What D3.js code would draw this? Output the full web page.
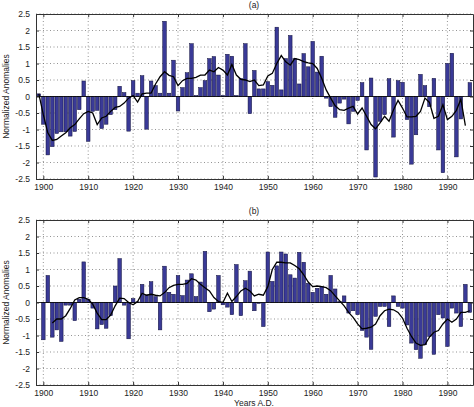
<!DOCTYPE html>
<html>
<head>
<meta charset="utf-8">
<script src="https://cdn.jsdelivr.net/npm/d3@7/dist/d3.min.js"></script>
<style>
body { margin: 0; background: #fff; }
text { font-family: "Liberation Sans", Arial, sans-serif; fill: #222; }
</style>
</head>
<body>
<svg id="chart" width="474" height="407"></svg>
<script>
// panel (a) bars, one per year from 1899
var barsA = [0.08, -0.84, -1.77, -1.52, -1.12, -1.07, -1.07, -1.2, -1.06, -0.4,
    0.47, -1.36, -0.45, -0.42, -0.97, -0.84, -0.55, -0.4, 0.31, 0.12,
    -1.05, 0.48, 0.1, 0.63, -0.99, 0.47, 0.33, 0.1, 2.28, 0.1,
    1.1, -0.44, 0.27, 0.72, 1.6, 0.03, 0.27, 0.48, 1.15, 1.21,
    0.65, 0.03, 1.28, 1.22, 0.03, 0.55, 1.6, -0.52, 0.79, 0.23,
    0.23, 0.45, 0.34, 2.1, 0.2, 1.15, 1.85, 1.15, 0.38, 1.3,
    0.9, 1.67, 0.74, 1.22, -0.05, -0.31, -0.63, -0.2, -0.08, -0.83,
    -0.45, -0.12, 0.42, -1.62, 0.56, -2.44, -0.75, -0.55, 0.54, -1.23,
    0.48, 0.43, -0.7, -2.05, -1.16, 0.67, 0.33, -0.31, 0.55, -1.62,
    -2.31, 1.0, 1.31, -1.83, -0.68, 0.0, 0.42];
var firstYearA = 1899;

// panel (a) smoothed curve, 1899-1994
var lineA = [0.08, -0.55, -1.1, -1.33, -1.3, -1.2, -1.1, -0.95, -0.85, -0.68,
    -0.52, -0.45, -0.5, -0.85, -0.65, -0.6, -0.45, -0.33, -0.3, -0.2,
    -0.05, 0.03, -0.17, 0.08, 0.1, 0.1, 0.38, 0.6, 0.75, 0.64,
    0.6, 0.33, 0.48, 0.55, 0.55, 0.58, 0.65, 0.65, 0.8, 0.75,
    0.88, 0.8, 0.65, 0.97, 0.65, 0.52, 0.5, 0.45, 0.5, 0.33,
    0.35, 0.62, 0.7, 1.0, 1.24, 1.05, 0.95, 1.15, 1.12, 1.06,
    1.02, 1.0, 0.85, 0.55, 0.2, -0.05, -0.28, -0.4, -0.42, -0.35,
    -0.3, -0.53, -0.35, -0.6, -0.85, -0.98, -0.8, -0.6, -0.75, -0.4,
    -0.12, -0.35, -0.62, -0.62, -0.6, -0.45, -0.05, -0.18, -0.66, -0.6,
    -0.25, -0.7, -0.6, -0.42, -0.08, -0.88];
var firstLineYearA = 1899;

// panel (b) bars, one per year from 1900
var barsB = [-1.13, 0.82, -1.05, -0.83, -1.18, -0.08, -0.08, -0.55, 0.1, 1.23,
    0.1, -0.17, -0.8, -0.67, -0.78, -0.4, 0.5, 1.33, -0.08, -1.1,
    0.12, 0.02, 0.55, 0.23, 0.63, 0.18, -0.83, 1.1, 0.31, 0.25,
    0.82, 0.21, 0.68, 0.87, 0.18, 0.62, 1.55, -0.28, -0.2, 0.82,
    -0.07, -0.14, -0.37, 1.15, -0.4, 0.66, 0.95, -0.25, -0.03, -0.73,
    1.53, 0.64, 1.11, 1.53, 1.47, 0.84, 0.74, 1.52, 1.22, 0.58,
    0.31, 0.43, 0.48, 0.25, 0.82, 0.41, 0.03, 0.2, -0.32, -0.25,
    -0.37, -0.85, -1.05, -1.42, -0.42, -0.12, -0.12, -0.73, 0.2, -0.12,
    -0.17, -0.68, -1.23, -1.43, -1.69, -1.28, -1.03, -1.57, -0.37, -0.47,
    -1.33, -0.17, -0.32, -0.73, 0.55, -0.3];
var firstYearB = 1900;

// panel (b) smoothed curve, 1902-1995
var lineB = [-0.62, -0.5, -0.5, -0.4, -0.18, 0.08, 0.15, 0.15,
    0.1, -0.05, -0.32, -0.52, -0.52, -0.38, -0.1, 0.13, 0.12, 0.0,
    -0.07, 0.03, 0.28, 0.22, 0.25, 0.22, 0.2, 0.3, 0.45, 0.52,
    0.55, 0.55, 0.58, 0.72, 0.68, 0.55, 0.45, 0.35, 0.15, 0.03,
    0.0, 0.28, 0.03, 0.18, 0.35, 0.43, 0.35, 0.2, 0.25, 0.22,
    0.48, 1.0, 1.22, 1.22, 1.2, 1.2, 1.12, 1.02, 0.84, 0.62,
    0.48, 0.5, 0.48, 0.45, 0.36, 0.2, 0.05, -0.1, -0.3, -0.45,
    -0.65, -0.8, -0.78, -0.75, -0.65, -0.4, -0.25, -0.2, -0.22, -0.3,
    -0.47, -0.78, -1.03, -1.23, -1.3, -1.28, -1.05, -0.9, -0.85, -0.65,
    -0.5, -0.6, -0.5, -0.3, -0.3, -0.25];
var firstLineYearB = 1902;

var xTicks = [1900, 1910, 1920, 1930, 1940, 1950, 1960, 1970, 1980, 1990];
var yTicks = [-2.5, -2, -1.5, -1, -0.5, 0, 0.5, 1, 1.5, 2, 2.5];
var panelTitles = ["(a)", "(b)"];

var svg = d3.select("#chart");

var x = d3.scaleLinear().domain([1898.37, 1995.7]).range([36, 473]);
var bw = (x(1) - x(0)) * 0.8;

function toPoints(vals, start) {
    return vals.map(function(v, i) { return {year: start + i, v: v}; });
}

function drawPanel(id, top, bottom, title, bars, barStart, line, lineStart) {
    var y = d3.scaleLinear().domain([-2.5, 2.5]).range([bottom, top]);
    var g = svg.append("g");

    g.append("clipPath").attr("id", "clip" + id)
        .append("rect")
        .attr("x", x.range()[0]).attr("y", top)
        .attr("width", x.range()[1] - x.range()[0])
        .attr("height", bottom - top);

    // dotted grid
    g.selectAll("line.gx").data(xTicks).enter().append("line")
        .attr("x1", function(d) { return x(d); })
        .attr("x2", function(d) { return x(d); })
        .attr("y1", top).attr("y2", bottom)
        .style("stroke", "#666").style("stroke-width", 0.7)
        .style("stroke-dasharray", "1,2.5");
    g.selectAll("line.gy").data(yTicks).enter().append("line")
        .attr("x1", x.range()[0]).attr("x2", x.range()[1])
        .attr("y1", function(d) { return y(d); })
        .attr("y2", function(d) { return y(d); })
        .style("stroke", "#666").style("stroke-width", 0.7)
        .style("stroke-dasharray", "1,2.5");

    var plot = g.append("g").attr("clip-path", "url(#clip" + id + ")");

    plot.selectAll("rect.bar").data(toPoints(bars, barStart)).enter().append("rect")
        .attr("x", function(d) { return x(d.year) - bw / 2; })
        .attr("width", bw)
        .attr("y", function(d) { return y(Math.max(0, d.v)); })
        .attr("height", function(d) { return Math.abs(y(d.v) - y(0)); })
        .style("fill", "#3a3a97")
        .style("stroke", "#10103a")
        .style("stroke-width", 0.5);

    plot.append("line")
        .attr("x1", x.range()[0]).attr("x2", x.range()[1])
        .attr("y1", y(0)).attr("y2", y(0))
        .style("stroke", "#000").style("stroke-width", 0.8);

    plot.append("path")
        .datum(toPoints(line, lineStart))
        .attr("d", d3.line()
            .x(function(d) { return x(d.year); })
            .y(function(d) { return y(d.v); }))
        .style("fill", "none")
        .style("stroke", "#000")
        .style("stroke-width", 1.3);

    // axes box with inward ticks
    var xAxisB = d3.axisBottom(x).tickValues(xTicks).tickSizeInner(-3).tickSizeOuter(0).tickPadding(5)
        .tickFormat(d3.format("d"));
    var xAxisT = d3.axisTop(x).tickValues(xTicks).tickSizeInner(-3).tickSizeOuter(0).tickFormat("");
    var yAxisL = d3.axisLeft(y).tickValues(yTicks).tickSizeInner(-3).tickSizeOuter(0).tickPadding(6)
        .tickFormat(function(d) { return String(d); });
    var yAxisR = d3.axisRight(y).tickValues(yTicks).tickSizeInner(-3).tickSizeOuter(0).tickFormat("");

    var axes = [
        g.append("g").attr("transform", "translate(0," + bottom + ")").call(xAxisB),
        g.append("g").attr("transform", "translate(0," + top + ")").call(xAxisT),
        g.append("g").attr("transform", "translate(" + x.range()[0] + ",0)").call(yAxisL),
        g.append("g").attr("transform", "translate(" + x.range()[1] + ",0)").call(yAxisR)
    ];
    axes.forEach(function(a) {
        a.selectAll(".domain").style("stroke", "#333").style("stroke-width", 1);
        a.selectAll(".tick line").style("stroke", "#333");
        a.selectAll("text").style("font-size", "8.5px").style("font-family", "'Liberation Sans', Arial, sans-serif").style("fill", "#222");
    });

    g.append("text")
        .attr("x", 254).attr("y", top - 6)
        .attr("text-anchor", "middle")
        .style("font-size", "8.5px")
        .text(title);

    g.append("text")
        .attr("transform", "translate(9," + ((top + bottom) / 2) + ") rotate(-90)")
        .attr("text-anchor", "middle")
        .style("font-size", "8.5px")
        .text("Normalized Anomalies");
}

drawPanel("a", 14, 179, panelTitles[0], barsA, firstYearA, lineA, firstLineYearA);
drawPanel("b", 220, 385, panelTitles[1], barsB, firstYearB, lineB, firstLineYearB);

svg.append("text")
    .attr("x", 254).attr("y", 406)
    .attr("text-anchor", "middle")
    .style("font-size", "8.5px")
    .text("Years A.D.");
</script>
</body>
</html>
